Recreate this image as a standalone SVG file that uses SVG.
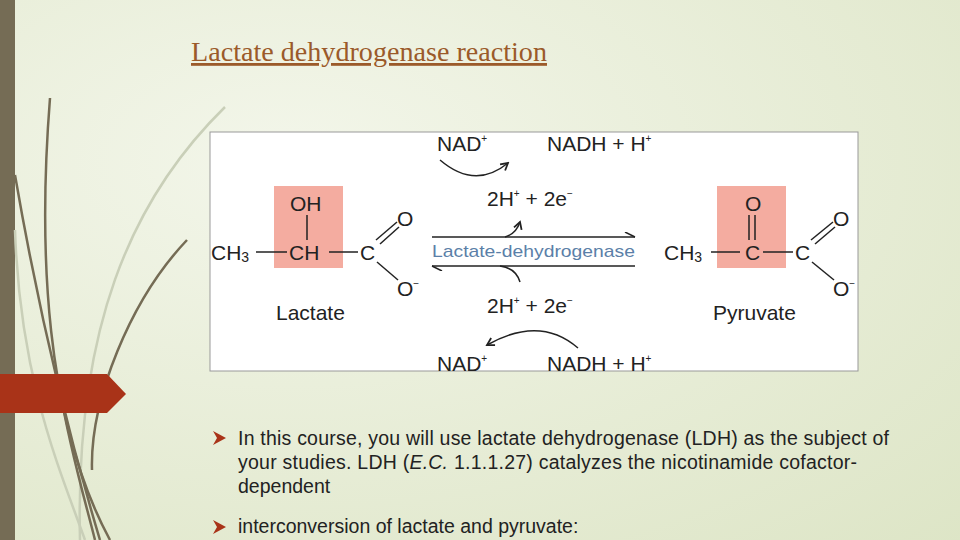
<svg xmlns="http://www.w3.org/2000/svg" width="960" height="540" viewBox="0 0 960 540">
<defs>
<radialGradient id="bg" cx="0.3" cy="0.3" r="1">
<stop offset="0" stop-color="#f3f6ea"/><stop offset="1" stop-color="#dde5c6"/>
</radialGradient>
<marker id="ah" markerWidth="10" markerHeight="10" refX="8" refY="5" orient="auto" markerUnits="userSpaceOnUse">
<path d="M1,1 L8,5 L1,9" fill="none" stroke="#222" stroke-width="1.8"/>
</marker>
<marker id="half" markerWidth="14" markerHeight="10" refX="13" refY="5" orient="auto" markerUnits="userSpaceOnUse">
<path d="M13,5 L3,0" fill="none" stroke="#222" stroke-width="1.5"/>
</marker>
<style>
.c{font-family:"Liberation Sans",Arial,sans-serif;font-size:21px;fill:#222}
.sup{font-size:10px}
.b{font-family:"Liberation Sans",Arial,sans-serif;font-size:19.5px;fill:#222}
.ln{stroke:#222;stroke-width:1.5;fill:none}
.g{fill:none;stroke:#756c55;stroke-width:2.5}
.gl{fill:none;stroke:#c9cfb8;stroke-width:2.5}
</style>
</defs>
<rect width="960" height="540" fill="url(#bg)"/>
<rect width="15" height="540" fill="#756c55"/>
<g id="grass">
<path class="gl" d="M225,107 C130,200 75,330 80,540"/>
<path class="gl" d="M15,230 C20,380 60,470 85,540"/>
<path class="g" d="M50,98 C38,250 45,420 110,540"/>
<path class="g" d="M15,175 C40,320 70,440 100,540"/>
<path class="g" d="M187,240 C130,300 90,400 92,470"/>
<path class="g" d="M60,390 C70,450 85,500 95,540"/>
</g>
<polygon id="banner" points="0,374 107,374 126,394 107,413 0,413" fill="#a93318"/>
<text x="191" y="61" font-family="'Liberation Serif',serif" font-size="28" fill="#9b5a2a" text-decoration="underline" textLength="356" lengthAdjust="spacingAndGlyphs">Lactate dehydrogenase reaction</text>
<g id="figure">
<rect x="210" y="132" width="648" height="239" fill="#fff" stroke="#999" stroke-width="1"/>
<rect x="274" y="186" width="69" height="82" fill="#f4aca0"/>
<rect x="717" y="186" width="69" height="82" fill="#f4aca0"/>
<text class="c" x="437" y="151">NAD<tspan class="sup" dy="-9">+</tspan></text>
<text class="c" x="547" y="151">NADH + H<tspan class="sup" dy="-9">+</tspan></text>
<path class="ln" d="M440,160 Q475,190 508,163" marker-end="url(#ah)"/>
<text class="c" x="487" y="206">2H<tspan class="sup" dy="-9">+</tspan><tspan dy="9"> + 2e</tspan><tspan class="sup" dy="-9">−</tspan></text>
<text class="c" x="211" y="260">CH<tspan font-size="14" dy="2">3</tspan></text>
<text class="c" x="290" y="211">OH</text>
<line class="ln" x1="307" y1="215" x2="307" y2="240"/>
<text class="c" x="289" y="260">CH</text>
<line class="ln" x1="256" y1="252" x2="287" y2="252"/>
<line class="ln" x1="329" y1="252" x2="358" y2="252"/>
<text class="c" x="360" y="260">C</text>
<line class="ln" x1="376" y1="240" x2="397" y2="222"/><line class="ln" x1="380" y1="244" x2="399" y2="227"/>
<text class="c" x="397" y="226">O</text>
<line class="ln" x1="377" y1="262" x2="398" y2="280"/>
<text class="c" x="397" y="296">O<tspan class="sup" dy="-9">−</tspan></text>
<text class="c" x="276" y="320">Lactate</text>
<line class="ln" x1="432" y1="237" x2="635" y2="237" marker-end="url(#half)"/>
<line class="ln" x1="635" y1="266" x2="432" y2="266" marker-end="url(#half)"/>
<path class="ln" d="M505,237 Q516,234 520,222" marker-end="url(#ah)"/>
<path class="ln" d="M520,282 Q516,268 500,266"/>
<text x="432" y="257" font-family="'Liberation Sans',Arial,sans-serif" font-size="17" fill="#5b7fa8" textLength="203" lengthAdjust="spacingAndGlyphs">Lactate-dehydrogenase</text>
<text class="c" x="487" y="313">2H<tspan class="sup" dy="-9">+</tspan><tspan dy="9"> + 2e</tspan><tspan class="sup" dy="-9">−</tspan></text>
<path class="ln" d="M578,348 Q540,315 487,345" marker-end="url(#ah)"/>
<text class="c" x="437" y="371">NAD<tspan class="sup" dy="-9">+</tspan></text>
<text class="c" x="547" y="371">NADH + H<tspan class="sup" dy="-9">+</tspan></text>
<text class="c" x="664" y="260">CH<tspan font-size="14" dy="2">3</tspan></text>
<line class="ln" x1="711" y1="252" x2="740" y2="252"/>
<text class="c" x="745" y="260">C</text>
<text class="c" x="745" y="211">O</text>
<line class="ln" x1="749" y1="215" x2="749" y2="240"/><line class="ln" x1="755" y1="215" x2="755" y2="240"/>
<line class="ln" x1="763" y1="252" x2="793" y2="252"/>
<text class="c" x="795" y="260">C</text>
<line class="ln" x1="811" y1="240" x2="833" y2="222"/><line class="ln" x1="815" y1="244" x2="835" y2="227"/>
<text class="c" x="833" y="226">O</text>
<line class="ln" x1="812" y1="262" x2="834" y2="280"/>
<text class="c" x="833" y="296">O<tspan class="sup" dy="-9">−</tspan></text>
<text class="c" x="713" y="320">Pyruvate</text>
</g>
<g id="body">
<path d="M213,431 L226,438 L213,445 L217,438 Z" fill="#a93318"/>
<text class="b" x="238" y="445" textLength="651">In this course, you will use lactate dehydrogenase (LDH) as the subject of</text>
<text class="b" x="238" y="469" textLength="619">your studies. LDH (<tspan font-style="italic">E.C.</tspan> 1.1.1.27) catalyzes the nicotinamide cofactor-</text>
<text class="b" x="238" y="493">dependent</text>
<path d="M213,520 L226,527 L213,534 L217,527 Z" fill="#a93318"/>
<text class="b" x="238" y="533">interconversion of lactate and pyruvate:</text>
</g>
</svg>
